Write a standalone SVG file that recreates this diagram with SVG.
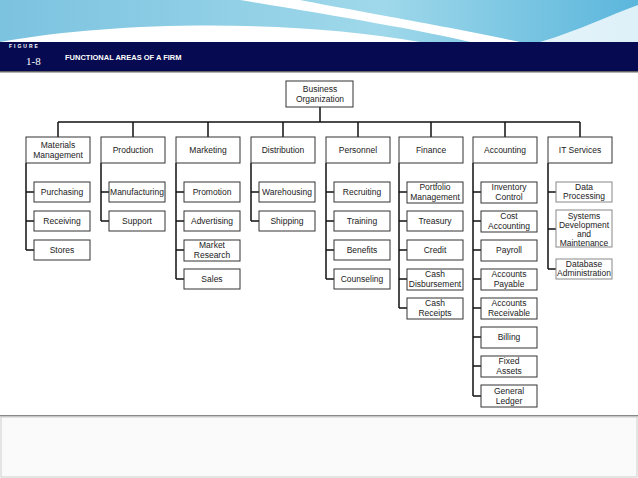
<svg xmlns="http://www.w3.org/2000/svg" width="638" height="478" viewBox="0 0 638 478">
<defs>
<linearGradient id="sky" x1="0" y1="0" x2="1" y2="0"><stop offset="0" stop-color="#7cc3e0"/><stop offset="0.6" stop-color="#9fd8ea"/><stop offset="1" stop-color="#5bb6dc"/></linearGradient>
</defs>
<style>
.b{fill:#fff;stroke:#333;stroke-width:1}
.g{fill:#fff;stroke:#888;stroke-width:1}
.t{font-family:"Liberation Sans",Arial,sans-serif;font-size:8.5px;fill:#222;text-anchor:middle}
.c{fill:none;stroke:#111;stroke-width:1.5}
</style>
<rect width="638" height="478" fill="#fff"/>
<rect width="638" height="42" fill="url(#sky)"/>
<path d="M0 42 C120 20 300 20 420 42 Z" fill="#fff"/>
<path d="M240 0 C330 15 420 30 470 42 L520 42 C440 25 340 8 300 0 Z" fill="#fff"/>
<path d="M540 42 C580 30 610 15 638 5 L638 42 Z" fill="#fff" opacity="0.8"/>
<rect x="0" y="42" width="638" height="29" fill="#060a50"/>
<rect x="0" y="71" width="638" height="1.5" fill="#666"/>
<text x="9" y="48" font-family="Liberation Sans,sans-serif" font-size="5" font-weight="bold" fill="#fff" letter-spacing="2">FIGURE</text>
<text x="26" y="65" font-family="Liberation Serif,serif" font-size="11" fill="#fff">1-8</text>
<text x="65" y="60" font-family="Liberation Sans,sans-serif" font-size="7.5" font-weight="bold" fill="#fff">FUNCTIONAL AREAS OF A FIRM</text>
<rect x="0" y="415" width="638" height="1.5" fill="#888"/>
<rect x="1" y="417" width="636" height="60" fill="#fafafa" stroke="#ccc"/>
<g id="connectors" class="c">
<path d="M320 107V122M58 122H580M58 122V137M133 122V137M208 122V137M283 122V137M358 122V137M431 122V137M505 122V137M580 122V137"/>
<path d="M26 163V250M26 192H34M26 221H34M26 250H34"/>
<path d="M101 163V221M101 192H109M101 221H109"/>
<path d="M176 163V279M176 192H184M176 221H184M176 250H184M176 279H184"/>
<path d="M251 163V221M251 192H259M251 221H259"/>
<path d="M326 163V279M326 192H334M326 221H334M326 250H334M326 279H334"/>
<path d="M399 163V308M399 192H407M399 221H407M399 250H407M399 279H407M399 308H407"/>
<path d="M473 163V396M473 192H481M473 221H481M473 250H481M473 279H481M473 308H481M473 337H481M473 366H481M473 396H481"/>
<path d="M548 163V269M548 192H556M548 229H556M548 269H556"/>
</g>
<g id="root"><rect class="b" x="286" y="81" width="67" height="26"/><text class="t" x="320" y="92">Business</text><text class="t" x="320" y="102">Organization</text></g>
<g id="materials"><rect class="b" x="26" y="137" width="64" height="26"/><text class="t" x="58" y="148">Materials</text><text class="t" x="58" y="158">Management</text></g>
<g id="production"><rect class="b" x="101" y="137" width="64" height="26"/><text class="t" x="133" y="153">Production</text></g>
<g id="marketing"><rect class="b" x="176" y="137" width="64" height="26"/><text class="t" x="208" y="153">Marketing</text></g>
<g id="distribution"><rect class="b" x="251" y="137" width="64" height="26"/><text class="t" x="283" y="153">Distribution</text></g>
<g id="personnel"><rect class="b" x="326" y="137" width="64" height="26"/><text class="t" x="358" y="153">Personnel</text></g>
<g id="finance"><rect class="b" x="399" y="137" width="64" height="26"/><text class="t" x="431" y="153">Finance</text></g>
<g id="accounting"><rect class="b" x="473" y="137" width="64" height="26"/><text class="t" x="505" y="153">Accounting</text></g>
<g id="it"><rect class="b" x="548" y="137" width="64" height="26"/><text class="t" x="580" y="153">IT Services</text></g>
<g id="purchasing"><rect class="b" x="34" y="182" width="56" height="20"/><text class="t" x="62" y="195">Purchasing</text></g>
<g id="receiving"><rect class="b" x="34" y="211" width="56" height="20"/><text class="t" x="62" y="224">Receiving</text></g>
<g id="stores"><rect class="b" x="34" y="240" width="56" height="20"/><text class="t" x="62" y="253">Stores</text></g>
<g id="manufacturing"><rect class="b" x="109" y="182" width="56" height="20"/><text class="t" x="137" y="195">Manufacturing</text></g>
<g id="support"><rect class="b" x="109" y="211" width="56" height="20"/><text class="t" x="137" y="224">Support</text></g>
<g id="promotion"><rect class="b" x="184" y="182" width="56" height="20"/><text class="t" x="212" y="195">Promotion</text></g>
<g id="advertising"><rect class="b" x="184" y="211" width="56" height="20"/><text class="t" x="212" y="224">Advertising</text></g>
<g id="research"><rect class="b" x="184" y="240" width="56" height="21"/><text class="t" x="212" y="248">Market</text><text class="t" x="212" y="258">Research</text></g>
<g id="sales"><rect class="b" x="184" y="269" width="56" height="20"/><text class="t" x="212" y="282">Sales</text></g>
<g id="warehousing"><rect class="b" x="259" y="182" width="56" height="20"/><text class="t" x="287" y="195">Warehousing</text></g>
<g id="shipping"><rect class="b" x="259" y="211" width="56" height="20"/><text class="t" x="287" y="224">Shipping</text></g>
<g id="recruiting"><rect class="b" x="334" y="182" width="56" height="20"/><text class="t" x="362" y="195">Recruiting</text></g>
<g id="training"><rect class="b" x="334" y="211" width="56" height="20"/><text class="t" x="362" y="224">Training</text></g>
<g id="benefits"><rect class="b" x="334" y="240" width="56" height="20"/><text class="t" x="362" y="253">Benefits</text></g>
<g id="counseling"><rect class="b" x="334" y="269" width="56" height="20"/><text class="t" x="362" y="282">Counseling</text></g>
<g id="portfolio"><rect class="b" x="407" y="182" width="56" height="21"/><text class="t" x="435" y="190">Portfolio</text><text class="t" x="435" y="200">Management</text></g>
<g id="treasury"><rect class="b" x="407" y="211" width="56" height="20"/><text class="t" x="435" y="224">Treasury</text></g>
<g id="credit"><rect class="b" x="407" y="240" width="56" height="20"/><text class="t" x="435" y="253">Credit</text></g>
<g id="disbursement"><rect class="b" x="407" y="269" width="56" height="21"/><text class="t" x="435" y="277">Cash</text><text class="t" x="435" y="287">Disbursement</text></g>
<g id="receipts"><rect class="b" x="407" y="298" width="56" height="21"/><text class="t" x="435" y="306">Cash</text><text class="t" x="435" y="316">Receipts</text></g>
<g id="inventory"><rect class="b" x="481" y="182" width="56" height="21"/><text class="t" x="509" y="190">Inventory</text><text class="t" x="509" y="200">Control</text></g>
<g id="cost"><rect class="b" x="481" y="211" width="56" height="21"/><text class="t" x="509" y="219">Cost</text><text class="t" x="509" y="229">Accounting</text></g>
<g id="payroll"><rect class="b" x="481" y="240" width="56" height="21"/><text class="t" x="509" y="253">Payroll</text></g>
<g id="payable"><rect class="b" x="481" y="269" width="56" height="21"/><text class="t" x="509" y="277">Accounts</text><text class="t" x="509" y="287">Payable</text></g>
<g id="receivable"><rect class="b" x="481" y="298" width="56" height="21"/><text class="t" x="509" y="306">Accounts</text><text class="t" x="509" y="316">Receivable</text></g>
<g id="billing"><rect class="b" x="481" y="327" width="56" height="21"/><text class="t" x="509" y="340">Billing</text></g>
<g id="fixed"><rect class="b" x="481" y="356" width="56" height="21"/><text class="t" x="509" y="364">Fixed</text><text class="t" x="509" y="374">Assets</text></g>
<g id="ledger"><rect class="b" x="481" y="385" width="56" height="22"/><text class="t" x="509" y="394">General</text><text class="t" x="509" y="404">Ledger</text></g>
<g id="dataproc"><rect class="g" x="556" y="182" width="56" height="20"/><text class="t" x="584" y="190">Data</text><text class="t" x="584" y="199">Processing</text></g>
<g id="sysdev"><rect class="g" x="556" y="210" width="56" height="37"/><text class="t" x="584" y="219">Systems</text><text class="t" x="584" y="228">Development</text><text class="t" x="584" y="237">and</text><text class="t" x="584" y="246">Maintenance</text></g>
<g id="dbadmin"><rect class="g" x="556" y="259" width="56" height="20"/><text class="t" x="584" y="267">Database</text><text class="t" x="584" y="276">Administration</text></g>
</svg>
